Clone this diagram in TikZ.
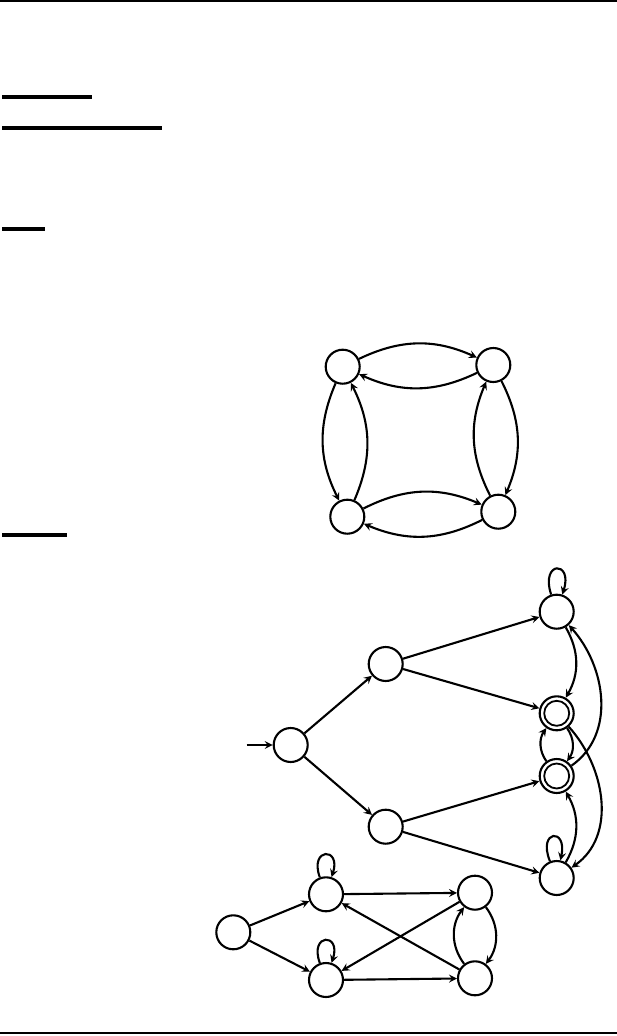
\documentclass[tikz,border=0pt]{standalone}
\usetikzlibrary{arrows.meta}
\begin{document}
\begin{tikzpicture}[x=1pt,y=-1pt,
  state/.style={draw,circle,minimum size=34pt,inner sep=0pt,line width=2.1pt},
  edge/.style={-{Stealth[length=8pt,width=8pt,inset=3pt]},line width=2.1pt},
  rule/.style={line width=2.4pt},
  uline/.style={line width=3.2pt}]
\useasboundingbox (0,0) rectangle (617,1036);
% rules and underlines
\coordinate (r1a) at (0,1); \coordinate (r1b) at (617,1);
\draw[rule] (r1a) -- (r1b);
\coordinate (r2a) at (0,1033); \coordinate (r2b) at (617,1033);
\draw[rule] (r2a) -- (r2b);
\coordinate (u1a) at (2,97); \coordinate (u1b) at (92,97);
\draw[uline] (u1a) -- (u1b);
\coordinate (u2a) at (2,128); \coordinate (u2b) at (162,128);
\draw[uline] (u2a) -- (u2b);
\coordinate (u3a) at (2,229); \coordinate (u3b) at (45,229);
\draw[uline] (u3a) -- (u3b);
\coordinate (u4a) at (2,535); \coordinate (u4b) at (67,535);
\draw[uline] (u4a) -- (u4b);

% graph 1
\node[state] (TL) at (342.7,366.7) {};
\node[state] (TR) at (493.3,365) {};
\node[state] (BL) at (347.3,516.7) {};
\node[state] (BR) at (498.3,511.7) {};
\draw[edge] (TL) to[bend left=25] (TR);
\draw[edge] (TR) to[bend left=25] (TL);
\draw[edge] (BL) to[bend right=25] (TL);
\draw[edge] (TL) to[bend right=25] (BL);
\draw[edge] (BR) to[bend left=25] (TR);
\draw[edge] (TR) to[bend left=25] (BR);
\draw[edge] (BL) to[bend left=25] (BR);
\draw[edge] (BR) to[bend left=25] (BL);

% graph 2
\coordinate (init) at (246.7,745);
\node[state] (s0) at (290.7,745) {};
\node[state] (u) at (385.7,664) {};
\node[state] (l) at (385.7,826.7) {};
\node[state] (t) at (556.7,611.7) {};
\node[state] (a1) at (556.7,713.3) {};
\node[state] (a2) at (556.7,776) {};
\node[state] (b) at (556.7,878) {};
\draw[line width=1.8pt] (a1.center) circle (12.5pt);
\draw[line width=1.8pt] (a2.center) circle (12.5pt);
\draw[edge] (init) -- (s0);
\draw[edge] (s0) -- (u);
\draw[edge] (s0) -- (l);
\draw[edge] (u) -- (t);
\draw[edge] (u) -- (a1);
\draw[edge] (l) -- (a2);
\draw[edge] (l) -- (b);
\draw[edge] (t) to[out=108,in=72,min distance=36pt] (t);
\draw[edge] (b) to[out=112,in=78,min distance=34pt] (b);
\draw[edge] (t) to[bend left=30] (a1);
\draw[edge] (a1) to[bend left=35] (a2);
\draw[edge] (a2) to[bend left=35] (a1);
\draw[edge] (b) to[bend right=30] (a2);
\draw[edge] (a2) to[out=35,in=-48] (t);
\draw[edge] (a1) to[out=-48,in=35] (b);

% graph 3
\node[state] (p0) at (233.3,932.3) {};
\node[state] (pu) at (326,894.3) {};
\node[state] (pl) at (326,980) {};
\node[state] (qu) at (475,892.7) {};
\node[state] (ql) at (475,978.3) {};
\draw[edge] (p0) -- (pu);
\draw[edge] (p0) -- (pl);
\draw[edge] (pu) -- (qu);
\draw[edge] (pl) -- (ql);
\draw[edge] (ql) -- (pu);
\draw[edge] (qu) -- (pl);
\draw[edge] (ql) to[bend left=37] (qu);
\draw[edge] (qu) to[bend left=37] (ql);
\draw[edge] (pu) to[out=110,in=72,min distance=32pt] (pu);
\draw[edge] (pl) to[out=110,in=72,min distance=32pt] (pl);
\end{tikzpicture}
\end{document}
